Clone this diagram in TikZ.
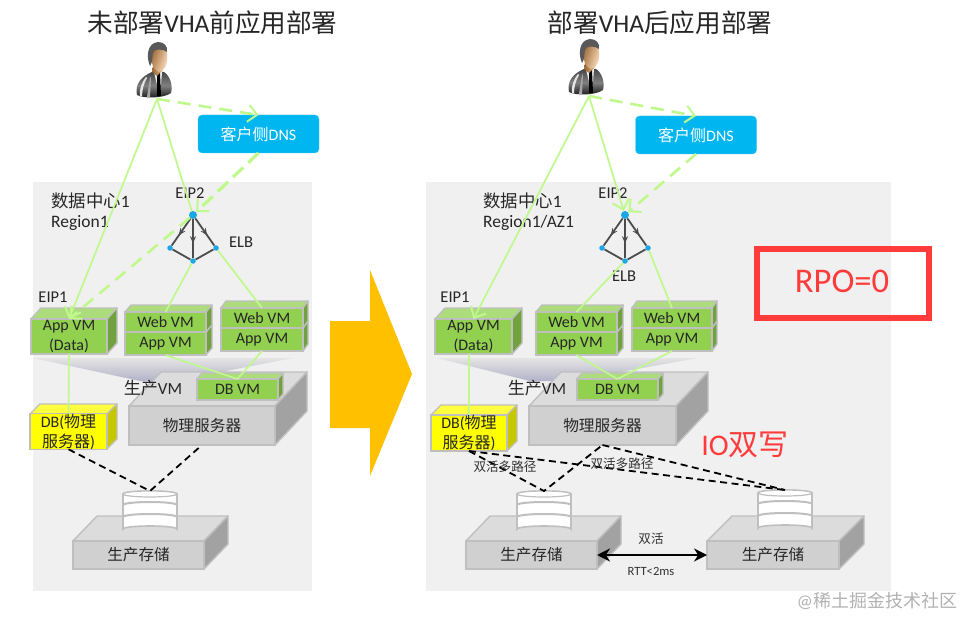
\documentclass[tikz,border=0pt]{standalone}
\usepackage{fontspec}
\setmainfont{Carlito}
\newfontfamily\cjk{Noto Sans CJK SC}
\usetikzlibrary{arrows.meta,decorations.markings,calc}
\definecolor{panel}{HTML}{F0F0F0}
\definecolor{edgegray}{HTML}{BFBFBF}
\definecolor{lime}{HTML}{BFF98C}
\definecolor{dnsblue}{HTML}{00B6F0}
\definecolor{dotblue}{HTML}{1AA7E4}
\definecolor{alertred}{HTML}{FF3B3B}
\definecolor{bigarrow}{HTML}{FFC000}
\definecolor{vmgreen}{HTML}{92D050}
\definecolor{srvgray}{HTML}{D0D0D0}
\definecolor{dbyellow}{HTML}{FFFF00}
\newcommand{\fsz}[1]{\fontsize{#1}{#1}\selectfont}
\tikzset{
  boxtxt/.style={font=\fontsize{16}{20}\selectfont,align=center,text=black!85},
  lbl/.style={font=\fontsize{16.5}{20}\selectfont,align=left,text=black!85,inner sep=0pt},
  small/.style={font=\fontsize{12.6}{15}\selectfont,text=black!80,inner sep=0pt},
  solidg/.style={draw=lime,line width=1.7pt},
  dashg/.style={draw=lime,line width=2.6pt,dash pattern=on 13pt off 8pt},
  tipg/.style={-{Straight Barb[length=9pt,width=17pt,line width=2pt]}},
  dashk/.style={draw=black,line width=1.8pt,dash pattern=on 7pt off 4.5pt},
  elbl/.style={draw=black!70,line width=1.8pt},
  elbm/.style={elbl,postaction={decorate},decoration={markings,mark=at position 0.62 with {\arrow[black!70]{Stealth[length=7pt,width=6pt]}}}},
  dot/.style={circle,fill=dotblue,inner sep=0pt,minimum size=#1},
  dnsbox/.style={fill=dnsblue,draw=dnsblue!70!white,rounded corners=4pt,minimum width=121pt,minimum height=38pt,inner sep=0pt,outer sep=0pt,text=white,font=\fsz{16}},
  titletxt/.style={text=black!85,font=\fsz{25.6},inner sep=0pt},
  redtxt/.style={text=alertred,inner sep=0pt},
  fan/.style={top color=black!5!panel,bottom color=blue!30!black!30},
}
% name x1 y1 x2 y2 dx dy colour text
\newcommand{\cuboid}[9]{%
  \fill[#8!75!white,draw=edgegray,line width=1.4pt,line join=round]
    (#2,#3)--++(#6,-#7)--(#4+#6,#3-#7)--(#4,#3)--cycle;
  \fill[#8!78!black,draw=edgegray,line width=1.4pt,line join=round]
    (#4,#3)--(#4+#6,#3-#7)--(#4+#6,#5-#7)--(#4,#5)--cycle;
  \node[boxtxt,fill=#8,draw=edgegray,line width=1.4pt,inner sep=0pt,outer sep=0pt,
    minimum width={(#4-#2)*1pt},minimum height={(#5-#3)*1pt}] (#1) at ({(#2+#4)/2},{(#3+#5)/2}) {#9};}
% name x top
\newcommand{\cyl}[3]{%
  \fill[white,draw=edgegray,line width=1.6pt] (#2-27,#3+3)
     arc[start angle=180,end angle=360,x radius=27,y radius=3]
     -- (#2+27,#3+38) arc[start angle=0,end angle=-180,x radius=27,y radius=3] -- cycle;
  \fill[white,draw=edgegray,line width=1.2pt] (#2,#3+3) ellipse[x radius=27,y radius=3];
  \draw[edgegray,line width=2pt] (#2-27,#3+14) arc[start angle=180,end angle=360,x radius=27,y radius=3];
  \draw[edgegray,line width=2pt] (#2-27,#3+26) arc[start angle=180,end angle=360,x radius=27,y radius=3];
  \coordinate (#1) at (#2,#3);}
% name x ybottom
\newcommand{\person}[3]{%
  \begin{scope}[shift={(#2,#3)}]
    \shade[top color=black!72,bottom color=black!92,middle color=black!50]
      (-20,-4) .. controls (-22,-14) and (-17,-22) .. (-5,-27) -- (7,-27)
      .. controls (13,-23) and (16,-14) .. (14,-6) .. controls (8,-1) and (-12,0) .. (-20,-4) -- cycle;
    \fill[black!10] (-17,-3) .. controls (-18,-10) and (-15,-17) .. (-11,-22) -- (-10,-21) .. controls (-13,-16) and (-15,-9) .. (-15,-3) -- cycle;
    \fill[black!35] (-10,-2) -- (-7,-21) -- (-6,-22) -- (-7,-2) -- cycle;
    \fill[black!5] (-3,-27) -- (5,-27) -- (4,-14) -- (0,-14) -- cycle;
    \fill[black] (0,-26) -- (3,-26) -- (4,-3) -- (0,-3) -- cycle;
    \shade[left color=brown!80!black,right color=brown!50!orange!50!white]
      (-4,-33) -- (-5,-27) -- (0,-23) -- (5,-28) -- (8,-34) -- cycle;
    \shade[left color=brown!80!black,right color=orange!25!white,shading angle=70]
      (-6,-50) .. controls (0,-53) and (10,-53) .. (10,-44) .. controls (11,-36) and (8,-28) .. (2,-27) .. controls (-3,-28) and (-7,-36) .. (-6,-50) -- cycle;
    \fill[black!65] (-7,-33) .. controls (-11,-42) and (-10,-56) .. (1,-57) .. controls (7,-57) and (11,-53) .. (10,-47) .. controls (4,-51) and (-3,-50) .. (-4,-46) .. controls (-5,-42) and (-4,-37) .. (-7,-33) -- cycle;
  \end{scope}
  \coordinate (#1) at (#2,#3);}
\begin{document}
\begin{tikzpicture}[x=1pt,y=-1pt]
\useasboundingbox (0,0) rectangle (977,631);
\fill[white] (0,0) rectangle (977,631);
% panels
\fill[panel] (33,182) rectangle (312,591);
\fill[panel] (426,182) rectangle (891,591);
% big arrow
\fill[bigarrow] (330,321)--(370,321)--(370,270)--(412,374)--(370,476)--(370,428)--(330,428)--cycle;
% titles
\node[titletxt] (ltitle) at (212.5,23) {{\cjk 未部署}VHA{\cjk 前应用部署}};
\node[titletxt] (rtitle) at (660,23) {{\cjk 部署}VHA{\cjk 后应用部署}};
% persons
\person{lperson}{157}{99}
\person{rperson}{589}{96}
% DNS
\node[dnsbox] (ldns) at (258.5,134) {{\cjk 客户侧}DNS};
\node[dnsbox] (rdns) at (696,135) {{\cjk 客户侧}DNS};
% labels
\node[lbl,anchor=west,font=\fsz{17.4}] (ldc) at (51,201) {{\cjk 数据中心}1};
\node[lbl,anchor=west,font=\fsz{17.5}] (lreg) at (51,223) {Region1};
\node[lbl,anchor=west,font=\fsz{17.4}] (rdc) at (483,201) {{\cjk 数据中心}1};
\node[lbl,anchor=west,font=\fsz{17.5}] (rreg) at (483,223) {Region1/AZ1};
\node[lbl] (leip2) at (190,193) {EIP2};
\node[lbl] (reip2) at (613,193) {EIP2};
\node[lbl] (lelb) at (241,242) {ELB};
\node[lbl] (relb) at (624,276) {ELB};
\node[lbl] (leip1) at (53,297) {EIP1};
\node[lbl] (reip1) at (455,297) {EIP1};
% fans
\shade[fan] (33,358)--(293,358)--(175,381)--(140,381)--cycle;
\shade[fan] (437,358)--(698,358)--(570,381)--(530,381)--cycle;
% left stacks
\cuboid{lapp}{31}{319}{107}{354}{10}{11}{vmgreen}{App VM\\(Data)}
\cuboid{lwebb}{125}{332}{206}{355}{6}{7}{vmgreen}{App VM}
\cuboid{lweba}{125}{312}{206}{332}{6}{7}{vmgreen}{Web VM}
\cuboid{lwebd}{221}{328}{303}{351}{5}{7}{vmgreen}{App VM}
\cuboid{lwebc}{221}{308}{303}{328}{5}{7}{vmgreen}{Web VM}
\cuboid{lsrv}{129}{406}{275}{445}{32}{34}{srvgray}{{\cjk\fsz{15.7}物理服务器}}
\cuboid{ldbvm}{197}{379}{278}{400}{5}{6}{vmgreen}{DB VM}
\node[lbl,font=\fsz{17},anchor=center] (lprod) at (153,388) {{\cjk 生产}VM};
\cuboid{ldb}{30}{414}{107}{449}{10}{10}{dbyellow}{DB({\cjk 物理}\\{\cjk 服务器})}
\cuboid{lsto}{73}{541}{204}{569}{24}{25}{srvgray}{{\cjk\fsz{15.6}生产存储}}
\cyl{lcyl}{150}{491}
% right stacks
\cuboid{rapp}{435}{319}{512}{354}{10}{11}{vmgreen}{App VM\\(Data)}
\cuboid{rwebb}{536}{332}{617}{355}{6}{7}{vmgreen}{App VM}
\cuboid{rweba}{536}{312}{617}{332}{6}{7}{vmgreen}{Web VM}
\cuboid{rwebd}{632}{328}{712}{351}{5}{7}{vmgreen}{App VM}
\cuboid{rwebc}{632}{308}{712}{328}{5}{7}{vmgreen}{Web VM}
\cuboid{rsrv}{529}{406}{676}{445}{32}{34}{srvgray}{{\cjk\fsz{15.7}物理服务器}}
\cuboid{rdbvm}{577}{379}{658}{400}{5}{6}{vmgreen}{DB VM}
\node[lbl,font=\fsz{17},anchor=center] (rprod) at (537,388) {{\cjk 生产}VM};
\cuboid{rdb}{431}{415}{507}{451}{10}{10}{dbyellow}{DB({\cjk 物理}\\{\cjk 服务器})}
\cuboid{rsto}{466}{541}{597}{569}{24}{25}{srvgray}{{\cjk\fsz{15.6}生产存储}}
\cyl{rcyl}{544}{491}
\cuboid{rstob}{707}{541}{839}{569}{25}{25}{srvgray}{{\cjk\fsz{15.6}生产存储}}
\cyl{rcylb}{785}{490}
% ELB
\node[dot=8pt] (lea) at (193,215) {};
\node[dot=5.5pt] (leb) at (170,248) {};
\node[dot=5.5pt] (lec) at (216,248) {};
\node[dot=5.5pt] (led) at (193,261) {};
\node[dot=8pt] (rea) at (625,215) {};
\node[dot=5.5pt] (reb) at (602,248) {};
\node[dot=5.5pt] (rec) at (648,248) {};
\node[dot=5.5pt] (red) at (625,261) {};
\foreach \p in {l,r}{
  \draw[elbm] (\p ea) -- (\p eb);
  \draw[elbm] (\p ea) -- (\p ec);
  \draw[elbm] (\p ea) -- (\p ed);
  \draw[elbl] (\p eb) -- (\p ed) -- (\p ec);
}
% green connectors, left
\draw[solidg] (lperson) -- (lea);
\draw[solidg,tipg] (lperson) -- (lapp.north);
\draw[dashg,tipg] (lperson) -- (ldns.north);
\draw[draw=lime,line width=3.2pt,dash pattern=on 14pt off 7pt,tipg] (ldns.south) -- (lea);
\draw[dashg,tipg] (lea) -- (lapp.north);
\draw[solidg] (led) -- (lweba.north);
\draw[solidg] (lec) -- (lwebc.north);
\draw[solidg] (lwebb.south) -- (ldbvm.north);
\draw[solidg] (lwebd.south) -- (ldbvm.north);
\draw[solidg] (lapp.south) -- (ldb.north);
% green connectors, right
\draw[solidg,tipg] (rperson) -- (rea);
\draw[solidg,tipg] (rperson) -- (rapp.north);
\draw[dashg,tipg] (rperson) -- (rdns.north);
\draw[dashg,tipg] (rdns.south) -- (rea);
\draw[solidg] (red) -- (rweba.north);
\draw[solidg] (rec) -- (rwebc.north);
\draw[solidg] (rwebb.south) -- (rdbvm.north);
\draw[solidg] (rwebd.south) -- (rdbvm.north);
\draw[solidg] (rdb.north |- rapp.south) -- (rdb.north);
% black dashed connectors
\draw[dashk] (ldb.south) -- (lcyl) -- (lsrv.south);
\draw[dashk] (rdb.south) -- (rcyl) -- (rsrv.south);
\draw[dashk] (rdb.south) -- (rcylb);
\draw[dashk] (rsrv.south) -- (rcylb);
\node[small] (lmp) at (505,467) {\cjk 双活多路径};
\node[small] (rmp) at (622,464) {\cjk 双活多路径};
% double arrow
\draw[black,line width=2pt,{Stealth[length=13pt,width=13pt]}-{Stealth[length=13pt,width=13pt]}] (rsto.east) -- (rstob.west);
\node[small] (aa) at (651,539) {\cjk 双活};
\node[small] (rtt) at (651,571) {RTT<2ms};
% RPO
\node[draw=alertred,line width=6pt,minimum width=172pt,minimum height=69pt,inner sep=0pt] (rpo) at (843,283.5) {};
\node[redtxt,font=\fsz{34.6}] (rpot) at (842,281) {RPO=0};
\node[redtxt,font=\fsz{30}] (io) at (745,445) {IO{\cjk 双写}};
% watermark
\node[inner sep=0pt,text=black!30,font=\fsz{18}] (wm) at (877,601) {@{\cjk 稀土掘金技术社区}};
\end{tikzpicture}
\end{document}
